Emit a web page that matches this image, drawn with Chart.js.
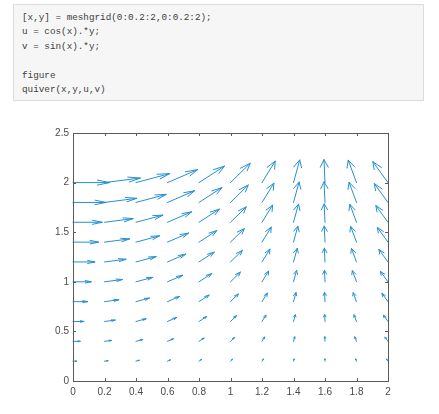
<!DOCTYPE html>
<html>
<head>
<meta charset="utf-8">
<script src="https://cdn.jsdelivr.net/npm/chart.js@4.4.0/dist/chart.umd.min.js"></script>
<style>
    body { margin: 0; background: #ffffff; width: 439px; height: 414px; position: relative; overflow: hidden; }
    #code {
        position: absolute; left: 13px; top: 4px; width: 411px; height: 97px;
        background: #f6f6f6; border: 1px solid #dcdcdc; box-sizing: border-box;
        margin: 0; padding: 6px 0 0 8px;
        font-family: "Liberation Mono", "DejaVu Sans Mono", monospace; font-size: 9.3px; line-height: 14.4px;
        color: #404040; white-space: pre;
    }
    #chartBox { position: absolute; left: 0; top: 110px; width: 439px; height: 304px; }
</style>
</head>
<body>
<pre id="code">[x,y] = meshgrid(0:0.2:2,0:0.2:2);
u = cos(x).*y;
v = sin(x).*y;

figure
quiver(x,y,u,v)</pre>
<div id="chartBox"><canvas id="quiverChart" width="439" height="304"></canvas></div>

<script>
// grid positions
const xVals = [0, 0.2, 0.4, 0.6, 0.8, 1.0, 1.2, 1.4, 1.6, 1.8, 2.0];
const yVals = [0, 0.2, 0.4, 0.6, 0.8, 1.0, 1.2, 1.4, 1.6, 1.8, 2.0];

// u values, one row per y
const uRows = [
    [0, 0, 0, 0, 0, 0, 0, 0, 0, 0, 0],
    [0.200, 0.196, 0.184, 0.165, 0.139, 0.108, 0.072, 0.034, -0.006, -0.045, -0.083],
    [0.400, 0.392, 0.368, 0.330, 0.279, 0.216, 0.145, 0.068, -0.012, -0.091, -0.166],
    [0.600, 0.588, 0.553, 0.495, 0.418, 0.324, 0.217, 0.102, -0.018, -0.136, -0.250],
    [0.800, 0.784, 0.737, 0.660, 0.557, 0.432, 0.290, 0.136, -0.023, -0.182, -0.333],
    [1.000, 0.980, 0.921, 0.825, 0.697, 0.540, 0.362, 0.170, -0.029, -0.227, -0.416],
    [1.200, 1.176, 1.105, 0.990, 0.836, 0.648, 0.435, 0.204, -0.035, -0.273, -0.499],
    [1.400, 1.372, 1.289, 1.155, 0.975, 0.756, 0.507, 0.238, -0.041, -0.318, -0.583],
    [1.600, 1.568, 1.474, 1.321, 1.115, 0.864, 0.580, 0.272, -0.047, -0.364, -0.666],
    [1.800, 1.764, 1.658, 1.486, 1.254, 0.973, 0.652, 0.306, -0.053, -0.409, -0.749],
    [2.000, 1.960, 1.842, 1.651, 1.393, 1.081, 0.725, 0.340, -0.058, -0.454, -0.832]
];

// v values, one row per y
const vRows = [
    [0, 0, 0, 0, 0, 0, 0, 0, 0, 0, 0],
    [0, 0.040, 0.078, 0.113, 0.143, 0.168, 0.186, 0.197, 0.200, 0.195, 0.182],
    [0, 0.079, 0.156, 0.226, 0.287, 0.337, 0.373, 0.394, 0.400, 0.390, 0.364],
    [0, 0.119, 0.234, 0.339, 0.430, 0.505, 0.559, 0.591, 0.600, 0.584, 0.546],
    [0, 0.159, 0.312, 0.452, 0.574, 0.673, 0.746, 0.788, 0.800, 0.779, 0.727],
    [0, 0.199, 0.389, 0.565, 0.717, 0.841, 0.932, 0.985, 1.000, 0.974, 0.909],
    [0, 0.238, 0.467, 0.678, 0.861, 1.010, 1.118, 1.183, 1.199, 1.169, 1.091],
    [0, 0.278, 0.545, 0.790, 1.004, 1.178, 1.305, 1.380, 1.399, 1.363, 1.273],
    [0, 0.318, 0.623, 0.903, 1.148, 1.346, 1.491, 1.577, 1.599, 1.558, 1.455],
    [0, 0.358, 0.701, 1.016, 1.291, 1.515, 1.678, 1.774, 1.799, 1.753, 1.637],
    [0, 0.397, 0.779, 1.129, 1.435, 1.683, 1.864, 1.971, 1.999, 1.948, 1.819]
];

const xTicks = [0, 0.2, 0.4, 0.6, 0.8, 1, 1.2, 1.4, 1.6, 1.8, 2];
const yTicks = [0, 0.5, 1, 1.5, 2, 2.5];

// matlab style arrow settings
const arrowScale = 0.116;
const headAlpha = 0.33;
const headBeta = 0.33;
const arrowColor = '#2590d3';
const axisColor = '#5a5a5a';

function buildPoints() {
    const pts = [];
    for (let j = 0; j < yVals.length; j++) {
        for (let i = 0; i < xVals.length; i++) {
            pts.push({x: xVals[i], y: yVals[j], u: uRows[j][i], v: vRows[j][i]});
        }
    }
    return pts;
}

const quiverPlugin = {
    id: 'quiver',
    afterDatasetsDraw(chart) {
        const ctx = chart.ctx;
        const xs = chart.scales.x;
        const ys = chart.scales.y;
        ctx.save();
        ctx.strokeStyle = arrowColor;
        ctx.lineWidth = 1;
        ctx.lineCap = 'round';
        chart.data.datasets[0].data.forEach(p => {
            const u = p.u * arrowScale;
            const v = p.v * arrowScale;
            if (u === 0 && v === 0) return;
            const tx = p.x + u, ty = p.y + v;
            // head points worked out in data units like matlab does
            const h1x = tx - headAlpha * (u + headBeta * v);
            const h1y = ty - headAlpha * (v - headBeta * u);
            const h2x = tx - headAlpha * (u - headBeta * v);
            const h2y = ty - headAlpha * (v + headBeta * u);
            ctx.beginPath();
            ctx.moveTo(xs.getPixelForValue(p.x), ys.getPixelForValue(p.y));
            ctx.lineTo(xs.getPixelForValue(tx), ys.getPixelForValue(ty));
            ctx.moveTo(xs.getPixelForValue(h1x), ys.getPixelForValue(h1y));
            ctx.lineTo(xs.getPixelForValue(tx), ys.getPixelForValue(ty));
            ctx.lineTo(xs.getPixelForValue(h2x), ys.getPixelForValue(h2y));
            ctx.stroke();
        });
        ctx.restore();
    }
};

// box round the plot with inward ticks on every side
const framePlugin = {
    id: 'frame',
    afterDraw(chart) {
        const ctx = chart.ctx;
        const a = chart.chartArea;
        const xs = chart.scales.x;
        const ys = chart.scales.y;
        const t = 3;
        ctx.save();
        ctx.strokeStyle = axisColor;
        ctx.lineWidth = 1;
        ctx.strokeRect(Math.round(a.left) + 0.5, Math.round(a.top) + 0.5,
            Math.round(a.right - a.left), Math.round(a.bottom - a.top));
        ctx.beginPath();
        xTicks.forEach(v => {
            const px = Math.round(xs.getPixelForValue(v)) + 0.5;
            ctx.moveTo(px, a.bottom); ctx.lineTo(px, a.bottom - t);
            ctx.moveTo(px, a.top); ctx.lineTo(px, a.top + t);
        });
        yTicks.forEach(v => {
            const py = Math.round(ys.getPixelForValue(v)) + 0.5;
            ctx.moveTo(a.left, py); ctx.lineTo(a.left + t, py);
            ctx.moveTo(a.right, py); ctx.lineTo(a.right - t, py);
        });
        ctx.stroke();
        ctx.restore();
    }
};

function createQuiverChart() {
    const ctx = document.getElementById('quiverChart');
    const tickFont = {family: '"Liberation Sans", Arial, sans-serif', size: 10};
    const config = {
        type: 'scatter',
        data: {
            datasets: [{
                data: buildPoints(),
                pointRadius: 0,
                showLine: false
            }]
        },
        options: {
            responsive: false,
            animation: false,
            devicePixelRatio: 1,
            layout: { padding: {left: 0, right: 51, top: 23, bottom: 0} },
            plugins: { legend: {display: false}, tooltip: {enabled: false} },
            scales: {
                x: {
                    type: 'linear', min: 0, max: 2,
                    grid: {display: false, drawTicks: false},
                    border: {display: false},
                    afterBuildTicks: axis => { axis.ticks = xTicks.map(v => ({value: v})); },
                    afterFit: axis => { axis.height = 33; },
                    ticks: { padding: 5, color: '#4a4a4a', font: tickFont, maxRotation: 0, callback: v => String(v) }
                },
                y: {
                    type: 'linear', min: 0, max: 2.5,
                    grid: {display: false, drawTicks: false},
                    border: {display: false},
                    afterBuildTicks: axis => { axis.ticks = yTicks.map(v => ({value: v})); },
                    afterFit: axis => { axis.width = 73; },
                    ticks: { padding: 4, color: '#4a4a4a', font: tickFont, callback: v => String(v) }
                }
            }
        },
        plugins: [quiverPlugin, framePlugin]
    };
    new Chart(ctx, config);
}

createQuiverChart();
</script>
</body>
</html>
